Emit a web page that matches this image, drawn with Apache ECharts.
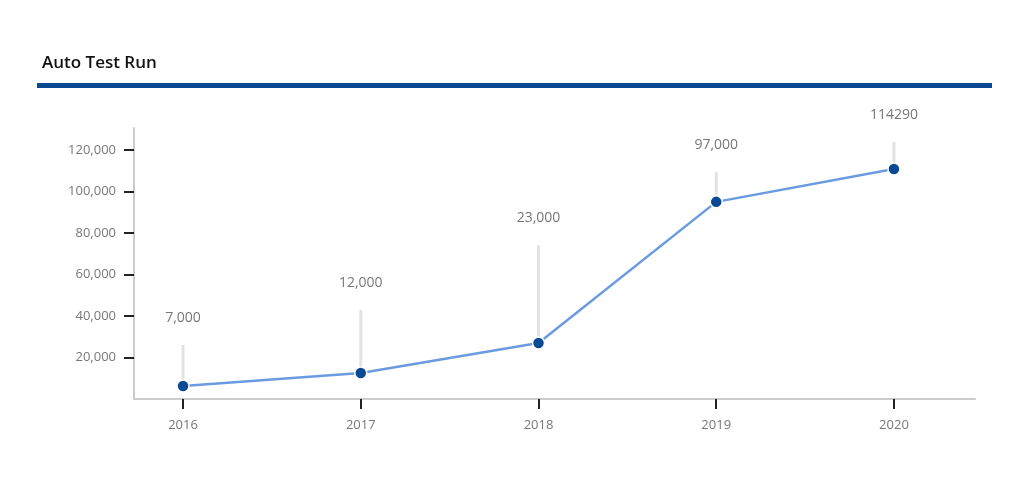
<!DOCTYPE html>
<html><head><meta charset="utf-8">
<script src="https://cdn.jsdelivr.net/npm/echarts@6/dist/echarts.min.js"></script>
<style>html,body{margin:0;background:#fff}#c{width:1024px;height:502px}</style>
</head><body><div id="c"></div>
<script>
const years = [2016, 2017, 2018, 2019, 2020];
const values = [6300, 12500, 27000, 95000, 110800];
const labelTexts = ['7,000', '12,000', '23,000', '97,000', '114290'];
const labelLevels = [39000, 55900, 87200, 122400, 136900];
const stemTops = [26000, 42900, 74200, 109400, 123900];
const stemBottoms = [9200, 14000, 29900, 98300, 113700];
const yTicks = [20000, 40000, 60000, 80000, 100000, 120000];

const chart = echarts.init(document.getElementById('c'));
const font = '"Open Sans", "Noto Sans", sans-serif';
chart.setOption({
  animation: false,
  textStyle: { fontFamily: font },
  title: { text: 'Auto Test Run', left: 37, top: 50, textStyle: { fontSize: 17, fontWeight: 600, color: '#111', fontFamily: font } },
  graphic: [{ type: 'rect', shape: { x: 37, y: 83, width: 955, height: 5 }, style: { fill: '#0a4a94' } }],
  grid: { left: 134, right: 49, top: 128, bottom: 103 },
  xAxis: {
    type: 'value', min: 2015.724, max: 2020.456,
    splitLine: { show: false },
    axisLine: { lineStyle: { color: '#ccc', width: 2 } },
    axisTick: { show: true, length: 10, lineStyle: { color: '#222', width: 2 }, customValues: years },
    axisLabel: { color: '#777', fontSize: 13, margin: 20, customValues: years, formatter: v => String(v) }
  },
  yAxis: {
    type: 'value', min: 0, max: 130600,
    splitLine: { show: false },
    axisLine: { show: true, lineStyle: { color: '#ccc', width: 2 } },
    axisTick: { show: true, length: 10, lineStyle: { color: '#222', width: 2 }, customValues: yTicks },
    axisLabel: { color: '#777', fontSize: 13, margin: 18, customValues: yTicks, formatter: v => v.toLocaleString('en-US') }
  },
  series: [
    {
      type: 'custom', clip: false, z: 1,
      data: years.map((y, i) => [y, labelLevels[i], stemTops[i], stemBottoms[i], i]),
      renderItem: (params, api) => {
        const x = api.value(0);
        const lbl = api.coord([x, api.value(1)]);
        const top = api.coord([x, api.value(2)]);
        const bot = api.coord([x, api.value(3)]);
        return { type: 'group', children: [
          { type: 'line', shape: { x1: top[0], y1: top[1], x2: bot[0], y2: bot[1] }, style: { stroke: '#e3e3e3', lineWidth: 3 } },
          { type: 'text', style: { x: lbl[0], y: lbl[1], text: labelTexts[api.value(4)], fill: '#777', fontSize: 14, fontFamily: font, align: 'center', verticalAlign: 'middle' } }
        ] };
      }
    },
    {
      type: 'line', z: 3,
      data: years.map((y, i) => [y, values[i]]),
      lineStyle: { color: '#6a9be0', width: 2.5 },
      symbol: 'circle', symbolSize: 12,
      itemStyle: { color: '#0a4a94', borderColor: '#fff', borderWidth: 1.5 }
    }
  ]
});
</script></body></html>
